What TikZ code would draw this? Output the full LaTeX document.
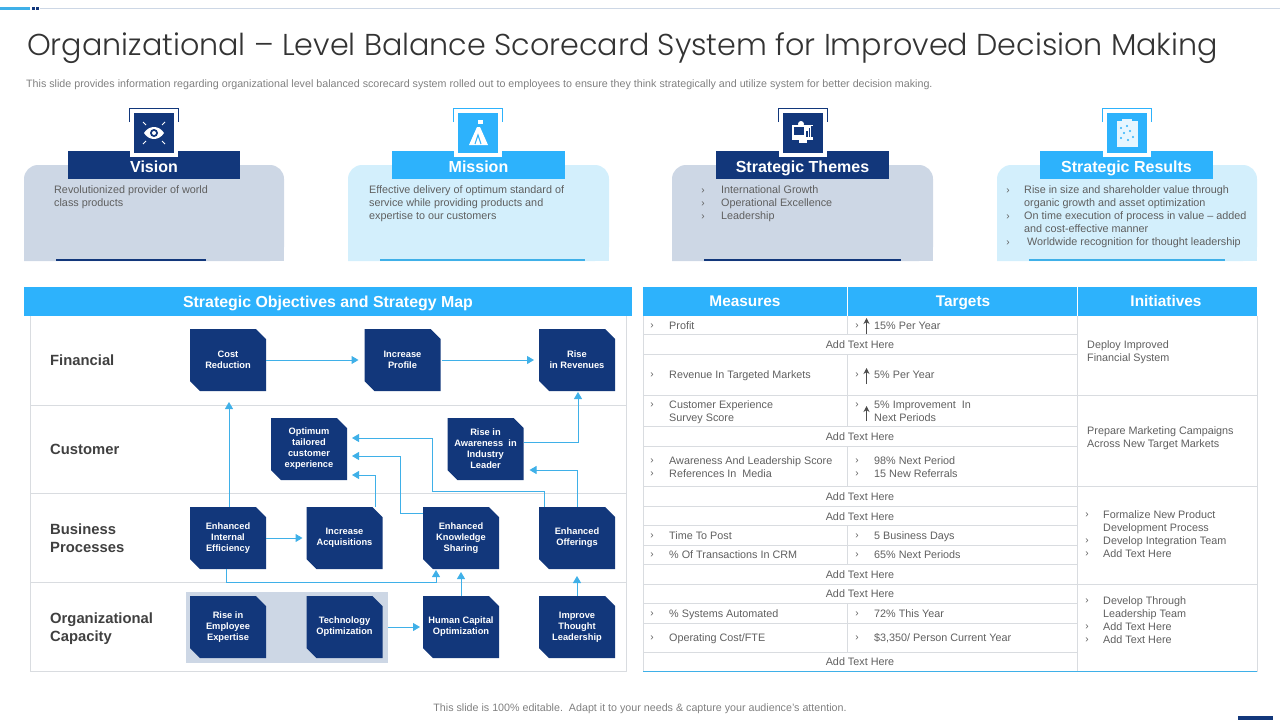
\documentclass[tikz,border=0pt]{standalone}
\usepackage{fontspec}
\setmainfont{Liberation Sans}
\newfontfamily\titlefont{Poppins Light}
\usetikzlibrary{arrows.meta}
\definecolor{navy}{HTML}{12377B}
\definecolor{skyblue}{HTML}{2DB2FC}
\definecolor{cardgrey}{HTML}{CDD7E5}
\definecolor{cardsky}{HTML}{D3EFFC}
\definecolor{flowblue}{HTML}{3FB0E8}
\definecolor{gridgrey}{HTML}{D9DCE0}
\definecolor{bodygrey}{HTML}{5F5F5F}
\tikzset{
  objbox/.style={rectangle,text=white,inner sep=0pt,outer sep=0pt,
    minimum width=76pt,minimum height=62pt,align=center,font=\fontsize{9.3}{11}\selectfont\bfseries,
    path picture={\fill[navy] (path picture bounding box.north west)
      -- ([xshift=-10pt]path picture bounding box.north east)
      -- ([yshift=-10pt]path picture bounding box.north east)
      -- (path picture bounding box.south east)
      -- ([xshift=10pt]path picture bounding box.south west)
      -- ([yshift=10pt]path picture bounding box.south west) -- cycle;}},
  flow/.style={flowblue,line width=1pt,-{Triangle[length=7pt,width=8pt]}},
  grid/.style={gridgrey,line width=1pt},
  bodytxt/.style={anchor=west,inner sep=0pt,text=bodygrey,align=left,font=\fontsize{10.8}{13}\selectfont},
  celltxt/.style={anchor=base west,inner sep=0pt,text=bodygrey,font=\fontsize{10.8}{13}\selectfont},
  midtxt/.style={anchor=base,inner sep=0pt,text=bodygrey,font=\fontsize{10.8}{13}\selectfont},
  chevron/.style={inner sep=0pt,text=bodygrey,yshift=-1pt,font=\fontsize{10}{13}\selectfont},
  rowhead/.style={anchor=west,inner sep=0pt,align=left,text=black!75,font=\fontsize{14.8}{18}\selectfont\bfseries},
  headtxt/.style={anchor=base,inner sep=0pt,text=white,font=\fontsize{15.4}{18}\selectfont\bfseries},
  cardhead/.style={anchor=base,inner sep=0pt,text=white,font=\fontsize{16}{18}\selectfont\bfseries},
  uparrow/.style={black!70,line width=0.8pt,-{Stealth[length=6pt,width=6pt]}}
}
\begin{document}
\begin{tikzpicture}[x=1pt,y=-1pt]
  \useasboundingbox (0,0) rectangle (1280,720);
  % top rule
  \draw[cardgrey,line width=1pt] (40,8.5) -- (1280,8.5);
  \fill[flowblue] (0,7) rectangle (30,10);
  \fill[navy] (32,7) rectangle (35,10);
  \fill[navy] (36,7) rectangle (39,10);
  \fill[navy] (1238,716) rectangle (1273,720);
  % title
  \node[anchor=base west,inner sep=0pt,text=black!80,font=\fontsize{30.2}{36}\selectfont\titlefont] (title) at (27,55.5)
    {Organizational – Level Balance Scorecard System for Improved Decision Making};
  \node[anchor=west,inner sep=0pt,text=black!50,font=\fontsize{10.7}{12}\selectfont] (subtitle) at (26,84.5)
    {This slide provides information regarding organizational level balanced scorecard system rolled out to employees to ensure they think strategically and utilize system for better decision making.};
  \node[inner sep=0pt,text=black!50,font=\fontsize{10.7}{12}\selectfont] (footer) at (640,708.5)
    {This slide is 100\% editable.\ \ Adapt it to your needs \& capture your audience's attention.};

  % cards
  \foreach \xa/\xb/\xc/\xd/\ca/\cb in {24/284/56/206/cardgrey/navy,348/609/380/585/cardsky/flowblue,672/933/704/901/cardgrey/navy,997/1257/1029/1225/cardsky/flowblue}{
    \fill[\ca,rounded corners=14pt] (\xa,261) -- (\xa,165) -- (\xb,165) -- (\xb,261) [sharp corners] -- cycle;
    \fill[\ca] (\xa,240) rectangle (\xb,261);
    \fill[\cb] (\xc,259) rectangle (\xd,261);
  }
  \foreach \xa/\xb/\xm/\cb/\name/\lbl in {68/240/154/navy/vision/Vision,392/565/478/skyblue/mission/Mission,716/889/803/navy/themes/Strategic Themes,1040/1213/1127/skyblue/results/Strategic Results}{
    \fill[\cb] (\xa,151) rectangle (\xb,179);
    \node[cardhead] (\name) at ({(\xa+\xb)/2},172) {\lbl};
    \fill[white] (\xm-24,110) rectangle (\xm+24,157);
    \draw[\cb,line width=1pt] (\xm-24.5,122) -- (\xm-24.5,108.5) -- (\xm+24.5,108.5) -- (\xm+24.5,122);
    \fill[\cb] (\xm-20,113) rectangle (\xm+20,153);
  }
  % icon: eye
  \fill[white] (144,133) .. controls (149,125) and (159,125) .. (164,133) .. controls (159,141) and (149,141) .. (144,133);
  \fill[navy] (154,133) circle (4);
  \fill[white] (154,133) circle (2);
  \draw[white,line width=1pt] (143,122) -- (146,125) (165,122) -- (162,125) (143,144) -- (146,141) (165,144) -- (162,141);
  % icon: mountain
  \fill[white] (469,145) -- (477,127) -- (480,127) -- (488,145) -- cycle;
  \fill[white] (477.5,120) rectangle (483,124);
  \draw[skyblue,line width=1pt] (475,144) -- (478,135) -- (481,144);
  % icon: monitor
  \fill[white] (792,125) rectangle (813,140);
  \fill[white] (799,140) rectangle (807,143);
  \fill[navy] (794,127) rectangle (804,135);
  \foreach \xb/\yb in {806/131,808.5/128,811/126}{\fill[navy] (\xb,\yb) rectangle (\xb+1.5,137);}
  \fill[white] (801,124) circle (3);
  % icon: clipboard
  \fill[white!88!skyblue] (1116.5,121) rectangle (1138,147);
  \fill[white!88!skyblue] (1122,119) rectangle (1132,122);
  \foreach \xb/\yb in {1121/128,1127/126,1124/133,1130/131,1133/137,1121/138,1128/140}{\fill[skyblue] (\xb,\yb) circle (1.2);}

  % card texts
  \node[bodytxt] (visiontxt) at (54,197) {Revolutionized provider of world\\class products};
  \node[bodytxt] (missiontxt) at (369,204) {Effective delivery of optimum standard of\\service while providing products and\\expertise to our customers};
  \node[bodytxt] (themestxt) at (721,204) {International Growth\\Operational Excellence\\Leadership};
  \node[bodytxt] (resultstxt) at (1024,217) {Rise in size and shareholder value through\\organic growth and asset optimization\\On time execution of process in value – added\\and cost-effective manner\\\ Worldwide recognition for thought leadership};

  % strategy map frame
  \draw[grid] (30.5,316) -- (30.5,671) -- (626.5,671) -- (626.5,316);
  \draw[grid] (30.5,405.5) -- (626.5,405.5);
  \draw[grid] (30.5,493.5) -- (626.5,493.5);
  \draw[grid] (30.5,582.5) -- (626.5,582.5);
  \fill[skyblue] (24,287) rectangle (632,316);
  \node[headtxt,font=\fontsize{15.9}{18}\selectfont\bfseries] (maphead) at (328,307.5) {Strategic Objectives and Strategy Map};
  \node[rowhead] (financial) at (50,360) {Financial};
  \node[rowhead] (customer) at (50,449) {Customer};
  \node[rowhead] (business) at (50,538) {Business\\Processes};
  \node[rowhead] (capacity) at (50,628.5) {Organizational\\Capacity};
  \fill[cardgrey] (186,592) rectangle (388,663);

  \node[objbox] (cost) at (228,360) {Cost\\Reduction};
  \node[objbox] (profile) at (402.5,360) {Increase\\Profile};
  \node[objbox] (revenue) at (577,360) {Rise\\in Revenues};
  \node[objbox] (tailored) at (309,449) {Optimum\\tailored\\customer\\experience};
  \node[objbox] (aware) at (485.5,449) {Rise in\\Awareness\ \ in\\Industry\\Leader};
  \node[objbox] (internal) at (228,538) {Enhanced\\Internal\\Efficiency};
  \node[objbox] (acquire) at (344.5,538) {Increase\\Acquisitions};
  \node[objbox] (knowledge) at (461,538) {Enhanced\\Knowledge\\Sharing};
  \node[objbox] (offering) at (577,538) {Enhanced\\Offerings};
  \node[objbox] (employee) at (228,627) {Rise in\\Employee\\Expertise};
  \node[objbox] (techopt) at (344.5,627) {Technology\\Optimization};
  \node[objbox] (human) at (461,627) {Human Capital\\Optimization};
  \node[objbox] (thought) at (577,627) {Improve\\Thought\\Leadership};

  \coordinate (busa) at (432,491);
  \coordinate (busb) at (400,513);
  \coordinate (busc) at (226,582.5);
  \draw[flow,shorten >=6pt] (cost) -- (profile);
  \draw[flow,shorten >=5pt,shorten <=1pt] (profile) -- (revenue);
  \draw[flow,shorten >=1pt] ([yshift=7pt]aware.east) -| ([xshift=1pt]revenue.south);
  \draw[flow,shorten >=11pt] ([xshift=1pt]internal.north) -- ([xshift=1pt]cost.south);
  \draw[flow,shorten >=4pt] (internal) -- (acquire);
  \draw[flow] ([xshift=-2pt]internal.south) |- (busc) -| ([xshift=-25pt,yshift=-1pt]knowledge.south);
  \draw[flow,shorten >=3pt] (human) -- (knowledge);
  \draw[flow,shorten >=7pt] (thought) -- (offering);
  \draw[flow,shorten >=3pt] ([xshift=43.5pt]techopt.center) -- (human);
  \draw[flow,shorten >=6pt] (offering.north) |- ([yshift=-21pt]aware.east);
  \draw[flow,shorten >=5pt] ([xshift=-33pt]offering.north) |- (busa) |- ([yshift=11pt]tailored.east);
  \draw[flow,shorten >=5pt] (knowledge.west |- busb) -- (busb) |- ([yshift=-7pt]tailored.east);
  \draw[flow,shorten >=5pt] ([xshift=31pt]acquire.north) |- ([yshift=-26pt]tailored.east);

  % table
  \fill[skyblue] (643,287) rectangle (1257,316);
  \draw[white,line width=0.6pt] (847.5,287) -- (847.5,316) (1077.5,287) -- (1077.5,316);
  \node[headtxt] (measures) at (745,306.5) {Measures};
  \node[headtxt] (targets) at (963,306.5) {Targets};
  \node[headtxt] (initiatives) at (1166,306.5) {Initiatives};
  \foreach \y in {334.5,354,426.5,446.5,506.5,525.5,545.5,564.5,603.5,623.5,652}
    \draw[grid] (643,\y) -- (1077,\y);
  \foreach \y in {395.5,486.5,584.5}
    \draw[grid] (643,\y) -- (1257,\y);
  \foreach \ya/\yb in {316/334.5,354/426.5,446.5/486.5,525.5/564.5,603.5/652}
    \draw[grid] (847.5,\ya) -- (847.5,\yb);
  \draw[grid] (643,316) -- (643,671.5);
  \draw[grid] (1077.5,316) -- (1077.5,671.5);
  \draw[grid] (1257,316) -- (1257,671.5);
  \draw[flowblue,line width=1pt] (643,671.5) -- (1257,671.5);

  % table texts
  \foreach \x/\y/\t [count=\n] in {669/325/Profit,669/374/Revenue In Targeted Markets,669/404/Customer Experience,669/417/Survey Score,
    669/460/Awareness And Leadership Score,669/473/References In\ \ Media,669/535/Time To Post,669/554/\% Of Transactions In CRM,
    669/613/\% Systems Automated,669/637/{Operating Cost/FTE},
    874/325/15\% Per Year,874/374/5\% Per Year,874/404/5\% Improvement\ \ In,874/417/Next Periods,874/460/98\% Next Period,874/473/15 New Referrals,
    874/535/5 Business Days,874/554/65\% Next Periods,874/613/72\% This Year,874/637/{\$3,350/ Person Current Year},
    1087/344/Deploy Improved,1087/357/Financial System,1087/430/Prepare Marketing Campaigns,1087/443/Across New Target Markets,
    1103/514/Formalize New Product,1103/527/Development Process,1103/540/Develop Integration Team,1103/553/Add Text Here,
    1103/600/Develop Through,1103/613/Leadership Team,1103/626/Add Text Here,1103/639/Add Text Here}
    \node[celltxt] (cell\n) at (\x,\y+4) {\t};
  \foreach \y [count=\n] in {344,436,496,516,574,593,661}
    \node[midtxt] (addtxt\n) at (860,\y+4) {Add Text Here};
  \foreach \x/\y [count=\n] in {652/325,652/374,652/404,652/460,652/473,652/535,652/554,652/613,652/637,
    857/325,857/374,857/404,857/460,857/473,857/535,857/554,857/613,857/637,
    1087/514,1087/540,1087/553,1087/600,1087/626,1087/639,
    703/190,703/203,703/216,1008/190,1008/216,1008/242}
    \node[chevron] (chev\n) at (\x,\y) {›};
  \coordinate (upa) at (866.5,334);
  \coordinate (upb) at (866.5,318);
  \coordinate (upc) at (866.5,384);
  \coordinate (upd) at (866.5,368);
  \coordinate (upe) at (866.5,421);
  \coordinate (upf) at (866.5,406);
  \draw[uparrow] (upa) -- (upb);
  \draw[uparrow] (upc) -- (upd);
  \draw[uparrow] (upe) -- (upf);
\end{tikzpicture}
\end{document}
